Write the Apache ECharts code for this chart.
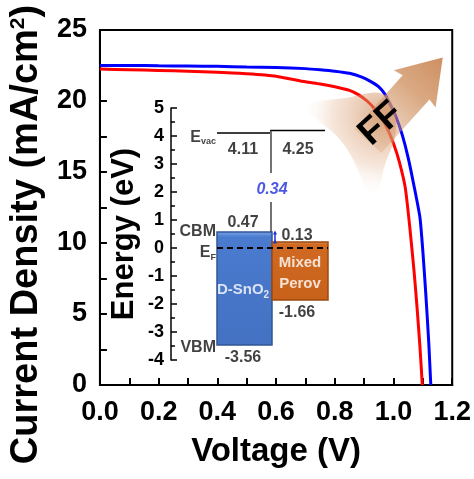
<!DOCTYPE html>
<html>
<head>
<meta charset="utf-8">
<script src="https://cdn.jsdelivr.net/npm/echarts@6/dist/echarts.min.js"></script>
<style>
  html, body { margin: 0; padding: 0; background: #fff; }
  #chart { width: 474px; height: 479px; }
</style>
</head>
<body>
<div id="chart"></div>
<script>
// J-V curves (Voltage in V, current density in mA/cm2)
const voltBlue = [0, 0.1, 0.2, 0.3, 0.4, 0.5, 0.6, 0.7, 0.75, 0.8, 0.85, 0.89, 0.92, 0.95, 0.97, 0.99, 1.01, 1.03, 1.05, 1.07, 1.09, 1.1, 1.11, 1.12, 1.127]
const curBlue = [22.5, 22.5, 22.48, 22.46, 22.44, 22.4, 22.36, 22.28, 22.2, 22.1, 21.95, 21.7, 21.4, 21.0, 20.5, 19.7, 18.8, 17.6, 16.0, 14.0, 11.8, 9.4, 6.4, 3.0, 0]
const voltRed = [0, 0.1, 0.2, 0.3, 0.4, 0.5, 0.6, 0.7, 0.75, 0.8, 0.85, 0.88, 0.91, 0.94, 0.96, 0.98, 1.0, 1.02, 1.04, 1.056, 1.07, 1.08, 1.09, 1.098]
const curRed = [22.25, 22.2, 22.15, 22.1, 22.02, 21.92, 21.75, 21.35, 21.2, 21.0, 20.75, 20.45, 20.0, 19.35, 18.8, 18.0, 17.0, 15.7, 13.9, 11.0, 8.0, 5.5, 2.7, 0]

// inset energy diagram (eV)
const cbmLevel = [0.57, 0.21]
const vbmLevel = [-3.46, -1.86]
const evacLevel = [4.11, 4.2]
const gapTop = 2.68      // connector line break
const gapBottom = 1.64
const noteText = ['E{sub|vac}', '4.11', '4.25', '{blue|0.34}', '0.47', '0.13', 'CBM', 'E{sub|F}', '-1.66', 'VBM', '-3.56']
const bandText = ['D-SnO{sub|2}', 'Mixed\nPerov']

// inset layout (x in px from inset axis)
const bandX = [[46, 101], [101, 157]]
const evacX = [[46, 99], [99, 154]]
const linkX = 100
const notePos = [[45, 3.96, 'right'], [72, 3.5], [127, 3.5], [101, 2.07], [72, 0.89], [126, 0.46],
  [45, 0.57, 'right'], [45, -0.18, 'right'], [126, -2.29], [45, -3.57, 'right'], [72, -3.93]]
const bandTextPos = [[72, -1.5], [129, -0.9]]

const font = "'Liberation Sans Narrow', 'Liberation Sans', Arial, sans-serif"
const fontW = "'Liberation Sans', Arial, sans-serif"

function zip(a, b) {
    return a.map((v, i) => [v, b[i]])
}

const bandColors = [
    { fill: ['#7fa8e8', '#4a7bcf', '#4471c2'], stroke: '#2f5597' },
    { fill: ['#e8945a', '#d06a22', '#c8611a'], stroke: '#9c4a10' }
]

const noteData = notePos.map((p, i) => ({
    value: [p[0], p[1]],
    label: { formatter: noteText[i], align: p[2] || 'center' }
}))
const bandLabelData = bandTextPos.map((p, i) => ({ value: p, label: { formatter: bandText[i] } }))

const cs = echarts.init(document.getElementById('chart'))
const option = {
    animation: false,
    backgroundColor: '#fff',
    grid: [
        { left: 87, top: 30, width: 367, height: 355, show: true, borderColor: '#000', borderWidth: 2 },
        { left: 171, top: 108, width: 160, height: 252 }
    ],
    xAxis: [
        {
            gridIndex: 0, type: 'value', min: 0, max: 1.2, interval: 0.2,
            name: 'Voltage (V)', nameLocation: 'middle', nameGap: 50,
            nameTextStyle: { fontFamily: fontW, fontWeight: 'bold', fontSize: 33, color: '#000' },
            axisLine: { lineStyle: { color: '#000', width: 2 } },
            axisTick: { inside: true, length: 7, lineStyle: { color: '#000', width: 2 } },
            minorTick: { show: true, splitNumber: 2, length: 7, lineStyle: { color: '#000', width: 2 } },
            splitLine: { show: false },
            axisLabel: { formatter: v => v.toFixed(1), fontFamily: font, fontWeight: 'bold', fontSize: 27, color: '#000', margin: 14 }
        },
        { gridIndex: 1, type: 'value', min: 0, max: 160, show: false }
    ],
    yAxis: [
        {
            gridIndex: 0, type: 'value', min: 0, max: 25, interval: 5,
            name: 'Current Density (mA/cm{sup|2})', nameLocation: 'middle', nameGap: 43,
            nameTextStyle: {
                fontFamily: fontW, fontWeight: 'bold', fontSize: 38, color: '#000', padding: [0, 54, 0, 0],
                rich: { sup: { fontFamily: fontW, fontWeight: 'bold', fontSize: 21, verticalAlign: 'top', padding: [0, 0, 17, 0] } }
            },
            axisLine: { lineStyle: { color: '#000', width: 2 } },
            axisTick: { inside: true, length: 7, lineStyle: { color: '#000', width: 2 } },
            minorTick: { show: true, splitNumber: 2, length: 7, lineStyle: { color: '#000', width: 2 } },
            splitLine: { show: false },
            axisLabel: { fontFamily: font, fontWeight: 'bold', fontSize: 27, color: '#000', margin: 13 }
        },
        {
            gridIndex: 1, type: 'value', min: -4, max: 5, interval: 1,
            name: 'Energy (eV)', nameLocation: 'middle', nameGap: 31,
            nameTextStyle: { fontFamily: fontW, fontWeight: 'bold', fontSize: 31, color: '#000' },
            axisLine: { lineStyle: { color: '#000', width: 1.5 } },
            axisTick: { inside: true, length: 6, lineStyle: { color: '#000', width: 1.5 } },
            minorTick: { show: true, splitNumber: 2, length: 4, lineStyle: { color: '#000', width: 1.5 } },
            splitLine: { show: false },
            axisLabel: { fontFamily: font, fontWeight: 'bold', fontSize: 18, color: '#000', margin: 7 }
        }
    ],
    series: [
        {
            type: 'line', xAxisIndex: 0, yAxisIndex: 0, data: zip(voltBlue, curBlue),
            showSymbol: false, smooth: 0.2, lineStyle: { color: '#0000ff', width: 3 }, z: 3
        },
        {
            type: 'line', xAxisIndex: 0, yAxisIndex: 0, data: zip(voltRed, curRed),
            showSymbol: false, smooth: 0.2, lineStyle: { color: '#ff0000', width: 3 }, z: 3
        },
        // band boxes
        {
            type: 'custom', xAxisIndex: 1, yAxisIndex: 1, z: 4,
            data: bandX.map((x, i) => [x[0], x[1], cbmLevel[i], vbmLevel[i], i]),
            renderItem: function (params, api) {
                const p0 = api.coord([api.value(0), api.value(2)])
                const p1 = api.coord([api.value(1), api.value(3)])
                const c = bandColors[api.value(4)]
                return {
                    type: 'rect',
                    shape: { x: p0[0], y: p0[1], width: p1[0] - p0[0], height: p1[1] - p0[1] },
                    style: {
                        fill: new echarts.graphic.LinearGradient(0, 0, 0, 1, [
                            { offset: 0, color: c.fill[0] }, { offset: 0.05, color: c.fill[1] }, { offset: 1, color: c.fill[2] }
                        ]),
                        stroke: c.stroke, lineWidth: 1.5
                    }
                }
            }
        },
        // vacuum levels
        {
            type: 'line', xAxisIndex: 1, yAxisIndex: 1, showSymbol: false, z: 5,
            data: [[evacX[0][0], evacLevel[0]], [evacX[0][1], evacLevel[0]], null, [evacX[1][0], evacLevel[1]], [evacX[1][1], evacLevel[1]]],
            connectNulls: false, lineStyle: { color: '#000', width: 1.5 }
        },
        // connector
        {
            type: 'line', xAxisIndex: 1, yAxisIndex: 1, showSymbol: false, z: 5,
            data: [[linkX, evacLevel[1]], [linkX, gapTop], null, [linkX, gapBottom], [linkX, cbmLevel[0]]],
            lineStyle: { color: '#444', width: 1.5 }
        },
        // Fermi level
        {
            type: 'line', xAxisIndex: 1, yAxisIndex: 1, showSymbol: false, z: 6,
            data: [[bandX[0][0], 0], [bandX[1][1], 0]],
            lineStyle: { color: '#000', width: 2, type: [6, 4] }
        },
        // small offset arrow
        {
            type: 'line', xAxisIndex: 1, yAxisIndex: 1, z: 6,
            data: [[104, cbmLevel[0] - 0.02], [104, cbmLevel[1] + 0.02]],
            symbol: 'triangle', symbolSize: 4, showSymbol: true,
            itemStyle: { color: '#1f2fd8' }, lineStyle: { color: '#1f2fd8', width: 1.5 }
        },
        // annotations
        {
            type: 'scatter', xAxisIndex: 1, yAxisIndex: 1, symbolSize: 0, z: 7, data: noteData,
            label: {
                show: true, position: 'inside', color: '#111', fontFamily: font, fontWeight: 'bold', fontSize: 16,
                rich: {
                    sub: { fontFamily: font, fontWeight: 'bold', fontSize: 9, verticalAlign: 'bottom', padding: [8, 0, 0, 0] },
                    blue: { color: '#1f2fd8', fontStyle: 'italic', fontFamily: font, fontWeight: 'bold', fontSize: 16 }
                }
            }
        },
        {
            type: 'scatter', xAxisIndex: 1, yAxisIndex: 1, symbolSize: 0, z: 7, data: bandLabelData,
            label: {
                show: true, position: 'inside', color: '#fff', fontFamily: font, fontWeight: 'bold', fontSize: 15, lineHeight: 21,
                rich: { sub: { color: '#fff', fontFamily: font, fontWeight: 'bold', fontSize: 10, verticalAlign: 'bottom', padding: [8, 0, 0, 0] } }
            }
        }
    ],
    graphic: [
        // glow behind arrow
        {
            type: 'polygon', z: 50,
            shape: { points: [[385, 95], [345, 98], [305, 106], [318, 120], [342, 142], [360, 175], [373, 212], [384, 168], [396, 128]], smooth: 0.4 },
            style: {
                fill: new echarts.graphic.RadialGradient(0.85, 0.2, 0.9, [
                    { offset: 0, color: 'rgba(200,130,80,0.65)' },
                    { offset: 0.6, color: 'rgba(225,170,130,0.3)' },
                    { offset: 1, color: 'rgba(255,255,255,0)' }
                ])
            }
        },
        // FF arrow
        {
            type: 'polygon', z: 51, x: 368, y: 141, rotation: 0.84,
            shape: { points: [[0, -18], [72, -18], [70, -28], [112, 0], [70, 28], [72, 18], [0, 18]] },
            style: {
                fill: new echarts.graphic.LinearGradient(0, 0, 1, 0, [
                    { offset: 0, color: 'rgba(215,160,115,0.3)' },
                    { offset: 0.6, color: 'rgba(205,140,90,0.75)' },
                    { offset: 1, color: 'rgba(200,130,80,0.9)' }
                ])
            }
        },
        {
            type: 'text', z: 52, x: 381, y: 124, rotation: 0.73,
            style: { text: 'FF', fontFamily: fontW, fontWeight: 'bold', fontSize: 37, fill: '#000', align: 'center', verticalAlign: 'middle' }
        }
    ]
}
cs.setOption(option)
</script>
</body>
</html>
